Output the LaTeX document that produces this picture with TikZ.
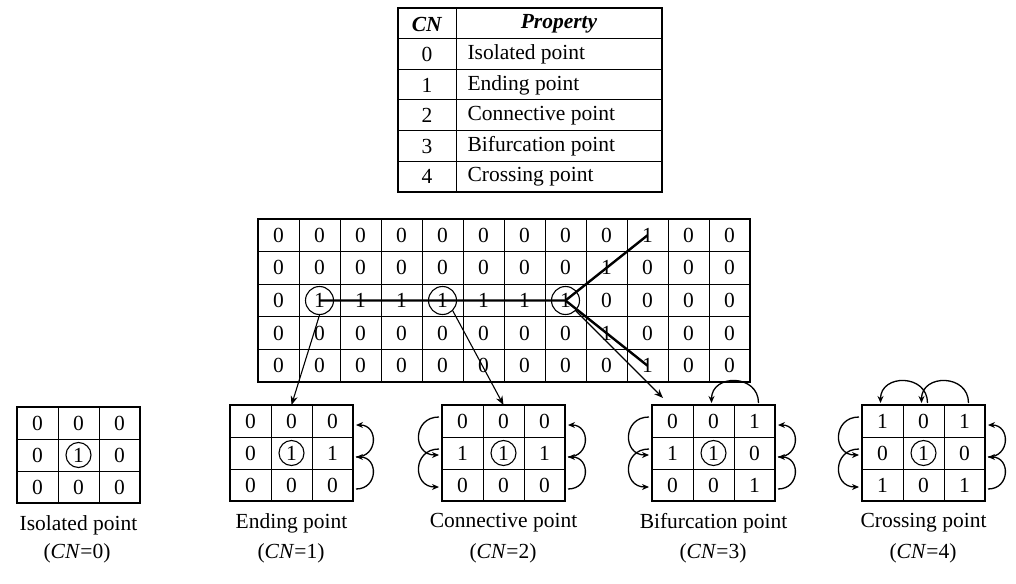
\documentclass[tikz,border=0pt]{standalone}
\usepackage{fontspec}
\setmainfont{Liberation Serif}
\usetikzlibrary{arrows.meta}
\begin{document}
\begin{tikzpicture}[x=1pt,y=-1pt,font=\fontsize{21.5}{23}\selectfont,
  thickln/.style={line width=2.4pt},
  thinarr/.style={line width=1.1pt,-{Stealth[length=9pt,width=7pt]}},
  curv/.style={line width=1.3pt,-{Stealth[length=7pt,width=6pt]}},
  gridline/.style={line width=0.7pt},
  frame/.style={line width=1.4pt},
  ring/.style={circle,draw,line width=1.1pt,minimum size=28pt,inner sep=0pt}]
\useasboundingbox (0,0) rectangle (1016,583);
% table
\draw[frame] (398,8) rectangle (662,192);
\draw[gridline] (456,8) -- (456,192);
\foreach \yy in {38.6,69.2,99.8,130.4,161} \draw[gridline] (398,\yy) -- (662,\yy);
\node (h1) at (427,24) {\textbf{\textit{CN}}};
\node (h2) at (559,24) {\textbf{\textit{Property}}};
\foreach \v/\t [count=\i from 0] in {0/Isolated point,1/Ending point,2/Connective point,3/Bifurcation point,4/Crossing point}{
  \node (tn\i) at (427,{54.5+30.6*\i}) {\v};
  \node[anchor=west] (tp\i) at (464,{54.5+30.6*\i}) {\t};
}
% big grid
\def\gx{258}\def\gy{219}\def\cw{41}\def\ch{32.6}
\foreach \i in {1,...,11} \draw[gridline] ({\gx+\cw*\i},\gy) -- ({\gx+\cw*\i},{\gy+5*\ch});
\foreach \j in {1,...,4} \draw[gridline] (\gx,{\gy+\ch*\j}) -- ({\gx+12*\cw},{\gy+\ch*\j});
\draw[frame] (\gx,\gy) rectangle ({\gx+12*\cw},{\gy+5*\ch});
\foreach \row [count=\r from 0] in {{0,0,0,0,0,0,0,0,0,1,0,0},{0,0,0,0,0,0,0,0,1,0,0,0},{0,1,1,1,1,1,1,1,0,0,0,0},{0,0,0,0,0,0,0,0,1,0,0,0},{0,0,0,0,0,0,0,0,0,1,0,0}}{
  \foreach \v [count=\c from 0] in \row {
    \node (b\r-\c) at ({\gx+\cw*(\c+0.5)},{\gy+\ch*(\r+0.5)}) {\v};
  }
}
\node[ring] (r1) at (b2-1) {};
\node[ring] (r2) at (b2-4) {};
\node[ring] (r3) at (b2-7) {};
\draw[thickln] (b2-1.center) -- (b2-7.center) -- (b0-9.center);
\draw[thickln] (b2-7.center) -- (b4-9.center);
% small grids
\def\sw{41}\def\sh{32}
\newcommand{\smallgrid}[5]{% name, x, y, values, label
  \foreach \i in {1,2} \draw[gridline] ({#2+\sw*\i},#3) -- ({#2+\sw*\i},{#3+3*\sh});
  \foreach \j in {1,2} \draw[gridline] (#2,{#3+\sh*\j}) -- ({#2+3*\sw},{#3+\sh*\j});
  \draw[frame] (#2,#3) rectangle ({#2+3*\sw},{#3+3*\sh});
  \foreach \row [count=\r from 0] in {#4}{
    \foreach \v [count=\c from 0] in \row {
      \node (#1\r\c) at ({#2+\sw*(\c+0.5)},{#3+\sh*(\r+0.5)}) {\v};
    }
  }
  \node[circle,draw,line width=1.1pt,minimum size=25pt,inner sep=0pt] (#1ring) at (#111) {};
  \node (#1lab) at ({#2+1.5*\sw},{#3+3*\sh+22}) {#5 point};
  \coordinate (#1top) at ({#2+1.5*\sw},#3);
  % side coordinates
  \foreach \r in {0,1,2}{
    \coordinate (#1R\r) at ({#2+3*\sw+3},{#3+\sh*(\r+0.5)});
    \coordinate (#1L\r) at ({#2-3},{#3+\sh*(\r+0.5)});
  }
  \foreach \c in {0,1,2} \coordinate (#1T\c) at ({#2+\sw*(\c+0.5)},{#3-2});
}
\smallgrid{g}{17}{407}{{0,0,0},{0,1,0},{0,0,0}}{Isolated}
\smallgrid{e}{230}{405}{{0,0,0},{0,1,1},{0,0,0}}{Ending}
\smallgrid{n}{442}{405}{{0,0,0},{1,1,1},{0,0,0}}{Connective}
\smallgrid{f}{652}{405}{{0,0,1},{1,1,0},{0,0,1}}{Bifurcation}
\smallgrid{x}{862}{405}{{1,0,1},{0,1,0},{1,0,1}}{Crossing}
\node (gcn) at (77,553) {(\textit{CN}=0)};
\node (ecn) at (291,553) {(\textit{CN}=1)};
\node (ncn) at (503,553) {(\textit{CN}=2)};
\node (fcn) at (713,553) {(\textit{CN}=3)};
\node (xcn) at (923,553) {(\textit{CN}=4)};
% arrows from big grid
\coordinate (ftl) at (663,398);
\draw[thinarr] (r1.south) -- (etop);
\draw[thinarr] (r2.south east) -- (ntop);
\draw[thinarr] (r3.south east) -- (ftl);
% curved arrows
\foreach \n in {e,n,f,x}{
  \draw[curv] ([yshift=-4pt]\n R1) to[out=0,in=0,looseness=1.8] ([yshift=-4pt]\n R0);
  \draw[curv] ([yshift=-4pt]\n R2) to[out=0,in=0,looseness=1.8] ([yshift=-4pt]\n R1);
}
\foreach \n in {n,f,x}{
  \draw[curv] ([yshift=4pt]\n L0) to[out=180,in=180,looseness=1.8] ([yshift=-2pt]\n L1);
  \draw[curv] ([yshift=4pt]\n L1) to[out=180,in=180,looseness=1.8] ([yshift=-2pt]\n L2);
}
\foreach \n in {f,x}
  \draw[curv] ([xshift=4pt]\n T2) to[out=90,in=90,looseness=1.6] ([xshift=-2pt]\n T1);
\draw[curv] ([xshift=4pt]xT1) to[out=90,in=90,looseness=1.6] ([xshift=-2pt]xT0);
\end{tikzpicture}
\end{document}
